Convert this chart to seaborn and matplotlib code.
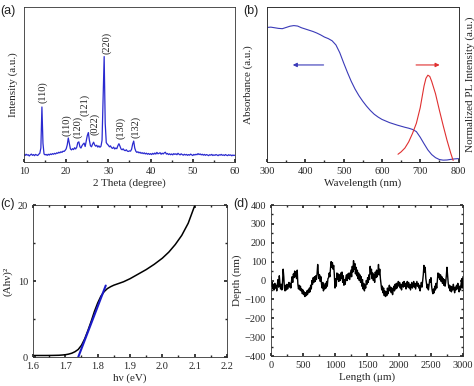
import numpy as np
import seaborn as sns
import matplotlib.pyplot as plt
from matplotlib.ticker import MultipleLocator, NullLocator

# %%
# (a) XRD pattern, 10-60 deg sampled every 0.25 deg (one row = one degree)
xrd_int = [
    4.8, 4.2, 5.0, 4.4,   4.7, 3.9, 4.6, 5.1,   4.3, 4.8, 4.1, 4.9,   4.5, 4.2, 5.0, 5.6,
    9.0, 35.5, 12.0, 5.2,  4.6, 4.9, 4.3, 5.0,   4.5, 5.2, 4.8, 5.4,   5.0, 5.6, 5.2, 5.9,
    5.6, 6.3, 5.9, 6.6,   6.2, 7.0, 6.8, 7.5,   8.5, 11.0, 15.5, 12.0, 8.5, 7.8, 8.6, 8.0,
    9.2, 8.4, 9.5, 12.5,  13.0, 9.8, 9.0, 10.5, 11.5, 12.2, 10.0, 13.5, 17.0, 19.0, 14.0, 10.5,
    9.8, 11.5, 12.8, 11.0, 10.2, 10.8, 9.6, 10.4, 9.5, 10.2, 14.0, 40.0, 68.0, 25.0, 12.5, 11.5,
    10.8, 9.8, 10.4, 9.2, 8.8, 9.6, 8.4, 9.0,   8.6, 10.5, 11.8, 10.2, 8.4, 7.9, 8.5, 7.6,
    7.3, 7.9, 7.0, 6.8,   7.2, 7.0, 8.2, 11.5,  13.5, 9.0, 7.0, 6.2,  6.6, 5.9, 6.3, 5.6,
    6.0, 5.4, 5.9, 5.2,   5.7, 5.0, 5.5, 4.9,   5.4, 4.8, 5.6, 5.0,   5.8, 5.1, 6.2, 5.3,
    5.6, 6.0, 5.0, 5.7,   5.2, 5.9, 6.3, 5.1,   5.5, 4.8, 5.3, 4.7,   5.2, 4.6, 5.4, 4.9,
    5.3, 4.7, 5.6, 5.0,   4.6, 5.3, 4.8, 4.4,   5.0, 4.5, 4.9, 4.3,   4.8, 4.4, 5.1, 4.6,
    4.2, 4.9, 4.5, 5.0,   4.7, 5.4, 4.8, 5.2,   4.6, 5.0, 4.4, 4.9,   4.3, 4.8, 4.5, 4.1,
    4.7, 4.4, 4.9, 4.2,   4.6, 4.3, 4.8, 4.5,   4.1, 4.7, 4.4, 4.9,   4.3, 4.6, 4.2, 4.8,
    4.4, 4.1, 4.7, 4.3,   4.6, 4.0, 4.5, 4.2,   4.4,
]
xrd_theta = np.linspace(10, 60, len(xrd_int))

hkl_labels = ['(110)', '(110)', '(120)', '(121)', '(022)', '(220)', '(130)', '(132)']
hkl_theta = [14.4, 20.1, 22.8, 24.5, 26.7, 29.6, 32.9, 36.4]
hkl_height = [45, 24, 22.5, 37, 24.5, 77, 22, 22.5]

# %%
# (b) absorbance and PL
abs_nm = [300, 310, 320, 330, 340, 350, 360, 370, 380, 390, 400, 410, 420, 430, 440, 450,
          460, 470, 480, 490, 500, 510, 520, 530, 540, 550, 560, 570, 580, 590, 600, 620,
          640, 660, 670, 680, 690, 700, 710, 720, 730, 740, 750, 760, 770, 780, 790, 800]
abs_val = [0.868, 0.870, 0.866, 0.862, 0.860, 0.868, 0.876, 0.880, 0.877, 0.866, 0.858,
           0.850, 0.842, 0.832, 0.820, 0.806, 0.796, 0.782, 0.755, 0.705, 0.640, 0.578,
           0.520, 0.470, 0.428, 0.392, 0.360, 0.332, 0.308, 0.290, 0.275, 0.254, 0.238,
           0.224, 0.218, 0.210, 0.196, 0.160, 0.118, 0.078, 0.048, 0.028, 0.016, 0.012,
           0.013, 0.017, 0.020, 0.022]
pl_nm = [642, 650, 660, 670, 680, 690, 700, 705, 710, 715, 720, 725, 730, 735, 740, 750,
         760, 770, 780, 786]
pl_val = [0.05, 0.065, 0.09, 0.13, 0.185, 0.25, 0.35, 0.42, 0.49, 0.54, 0.56, 0.552,
          0.52, 0.48, 0.44, 0.335, 0.235, 0.14, 0.055, 0.01]

# %%
# (c) Tauc plot and linear fit
tauc_ev = [1.60, 1.62, 1.64, 1.66, 1.68, 1.69, 1.70, 1.71, 1.72, 1.73, 1.74, 1.75, 1.76,
           1.77, 1.78, 1.79, 1.80, 1.81, 1.82, 1.83, 1.84, 1.85, 1.86, 1.88, 1.90, 1.925,
           1.95, 1.975, 2.00, 2.02, 2.04, 2.06, 2.08, 2.10]
tauc_val = [0.2, 0.2, 0.2, 0.21, 0.23, 0.26, 0.3, 0.38, 0.5, 0.7, 1.0, 1.55, 2.4,
            3.5, 4.7, 6.0, 7.1, 8.0, 8.6, 9.0, 9.25, 9.45, 9.6, 9.9, 10.3, 10.9,
            11.5, 12.2, 13.0, 13.8, 14.8, 16.0, 17.6, 19.9]
fit_ev = [1.74, 1.825]
fit_val = [0.0, 9.4]

# %%
# (d) depth profile, 0-3000 um every 10 um (one row = 100 um)
depth = [
    20, -30, -10, -45, -20, -50, -15, -40, -25, -55,
    -20, 5, -35, 25, -15, -45, -20, -50, -10, 60,
    20, -40, -55, -25, -50, -20, -45, -30, -10, -35,
    -15, -40, -5, 20, -10, 35, 15, 50, 20, 45,
    10, 55, -20, -45, -25, -50, -30, -55, -45, -70,
    -50, -75, -60, -85, -65, -80, -55, -75, -50, -65,
    -40, -60, -25, -45, 0, -20, 15, -10, 20, -5,
    25, 5, 35, 85, 40, 10, 30, -5, 20, -20,
    -40, -10, -55, -25, -45, -15, -40, -5, -30, 10,
    15, 40, 20, 65, 100, 70, 95, 60, 80, 30,
    -40, 10, -30, 40, 5, 35, -5, 30, 0, 40,
    10, 45, -10, 25, -25, 5, -20, 15, 30, 0,
    35, 10, 40, 5, 30, 55, 20, 75, 45, 105,
    60, 90, 35, 70, 25, 55, 10, 40, 0, 30,
    -10, 20, -30, 5, -45, -15, -55, -25, -40, 0,
    -20, 15, -10, 30, 5, 75, 35, 60, 10, 40,
    0, 30, -10, 45, 15, 55, 20, 40, 85, 30,
    60, 10, -20, -50, -30, -65, -40, -80, -55, -85,
    -60, -80, -40, -70, -45, -25, -55, -35, -65, -40,
    -75, -50, -30, -55, -20, -45, -15, -40, -25, -5,
    -30, -10, -40, -20, -50, -25, -10, -35, -5, -30,
    -15, -45, -20, -5, -35, -10, -40, -20, -50, -30,
    -10, -40, -20, -5, -35, -15, -45, -25, -5, -30,
    -15, -40, -25, -55, -30, -10, -35, 0, 30, 80,
    45, 70, 10, -15, -40, -20, -50, -25, 5, -10,
    15, -30, -55, -70, -45, -65, -30, -50, -15, -40,
    0, 40, 15, 35, 5, 30, -5, 20, -15, 10,
    -25, 5, -30, -10, 25, 70, 30, -15, -40, -25,
    -55, -30, -60, -35, -50, -20, -45, -65, -35, -50,
    -25, -45, -15, -40, -60, -30, -50, -20, 10, -40,
    20,
]
length_um = np.linspace(0, 3000, len(depth))

# %%
sns.set_theme(style='ticks')
plt.rcParams['font.family'] = ['Liberation Serif', 'DejaVu Serif']
plt.rcParams['xtick.direction'] = 'in'
plt.rcParams['ytick.direction'] = 'in'
plt.rcParams['xtick.labelsize'] = 7.5
plt.rcParams['ytick.labelsize'] = 7.5
plt.rcParams['axes.labelsize'] = 8
plt.rcParams['axes.linewidth'] = 0.6
plt.rcParams['axes.edgecolor'] = '#333333'
plt.rcParams['xtick.major.size'] = 2.5
plt.rcParams['ytick.major.size'] = 2.5
plt.rcParams['xtick.minor.size'] = 1.5
plt.rcParams['ytick.minor.size'] = 1.5

fig = plt.figure(figsize=(4.74, 3.86), dpi=100)
ax_a = fig.add_axes([0.0506, 0.5803, 0.4451, 0.4016])
ax_b = fig.add_axes([0.5633, 0.5803, 0.4040, 0.4016])
ax_c = fig.add_axes([0.0696, 0.0751, 0.4093, 0.3938])
ax_d = fig.add_axes([0.5717, 0.0777, 0.4050, 0.3912])

# %%
# (a)
sns.lineplot(x=xrd_theta, y=xrd_int, ax=ax_a, color='#2a2ad0', linewidth=0.9)
ax_a.set_xlim(10, 60)
ax_a.set_ylim(0, 100)
ax_a.xaxis.set_major_locator(MultipleLocator(10))
ax_a.xaxis.set_minor_locator(MultipleLocator(5))
ax_a.yaxis.set_major_locator(NullLocator())
ax_a.set_xlabel('2 Theta (degree)', labelpad=2)
ax_a.set_ylabel('Intensity (a.u.)', labelpad=4)
for lab, xx, yy in zip(hkl_labels, hkl_theta, hkl_height):
    ax_a.text(xx, yy, lab, rotation=90, ha='center', va='center', fontsize=7.5, color='#222222')

# %%
# (b)
sns.lineplot(x=abs_nm, y=abs_val, ax=ax_b, color='#3a3ab8', linewidth=0.8)
ax_b.set_xlim(300, 800)
ax_b.set_ylim(0, 1)
ax_b.xaxis.set_major_locator(MultipleLocator(100))
ax_b.xaxis.set_minor_locator(MultipleLocator(50))
ax_b.yaxis.set_major_locator(NullLocator())
ax_b.set_xlabel('Wavelength (nm)', labelpad=2)
ax_b.set_ylabel('Absorbance (a.u.)', labelpad=10)
ax_b2 = ax_b.twinx()
sns.lineplot(x=pl_nm, y=pl_val, ax=ax_b2, color='#e03030', linewidth=0.8)
ax_b2.set_ylim(0, 1)
ax_b2.yaxis.set_major_locator(NullLocator())
ax_b2.set_ylabel('Normalized PL Intensity (a.u.)', labelpad=5)
ax_b.annotate('', xy=(360, 0.626), xytext=(455, 0.626),
              arrowprops=dict(arrowstyle='-|>', color='#3a3ab8', lw=0.8, mutation_scale=6))
ax_b.annotate('', xy=(758, 0.626), xytext=(682, 0.626),
              arrowprops=dict(arrowstyle='-|>', color='#e03030', lw=0.8, mutation_scale=6))

# %%
# (c)
sns.lineplot(x=tauc_ev, y=tauc_val, ax=ax_c, color='black', linewidth=1.1)
sns.lineplot(x=fit_ev, y=fit_val, ax=ax_c, color='#1a1ac8', linewidth=1.5)
ax_c.set_xlim(1.6, 2.2)
ax_c.set_ylim(0, 20)
ax_c.xaxis.set_major_locator(MultipleLocator(0.1))
ax_c.xaxis.set_minor_locator(MultipleLocator(0.05))
ax_c.yaxis.set_major_locator(MultipleLocator(10))
ax_c.yaxis.set_minor_locator(MultipleLocator(5))
ax_c.tick_params(which='both', top=True, right=True)
ax_c.set_xlabel('hν (eV)', labelpad=2)
ax_c.set_ylabel('(Ahν)²', labelpad=4)

# %%
# (d)
sns.lineplot(x=length_um, y=depth, ax=ax_d, color='black', linewidth=1.0)
ax_d.set_xlim(0, 3000)
ax_d.set_ylim(-400, 400)
ax_d.xaxis.set_major_locator(MultipleLocator(500))
ax_d.xaxis.set_minor_locator(MultipleLocator(250))
ax_d.yaxis.set_major_locator(MultipleLocator(100))
ax_d.yaxis.set_minor_locator(MultipleLocator(50))
ax_d.tick_params(which='both', top=True, right=True)
ax_d.set_xlabel('Length (μm)', labelpad=2)
ax_d.set_ylabel('Depth (nm)', labelpad=2)

# %%
for lab, xx, yy in [('(a)', 0.0, 0.987), ('(b)', 0.513, 0.987), ('(c)', 0.0, 0.488), ('(d)', 0.493, 0.488)]:
    fig.text(xx, yy, lab, fontsize=9, family='Liberation Sans', ha='left', va='top', color='#222222')

fig.savefig('out.png', dpi=100)
